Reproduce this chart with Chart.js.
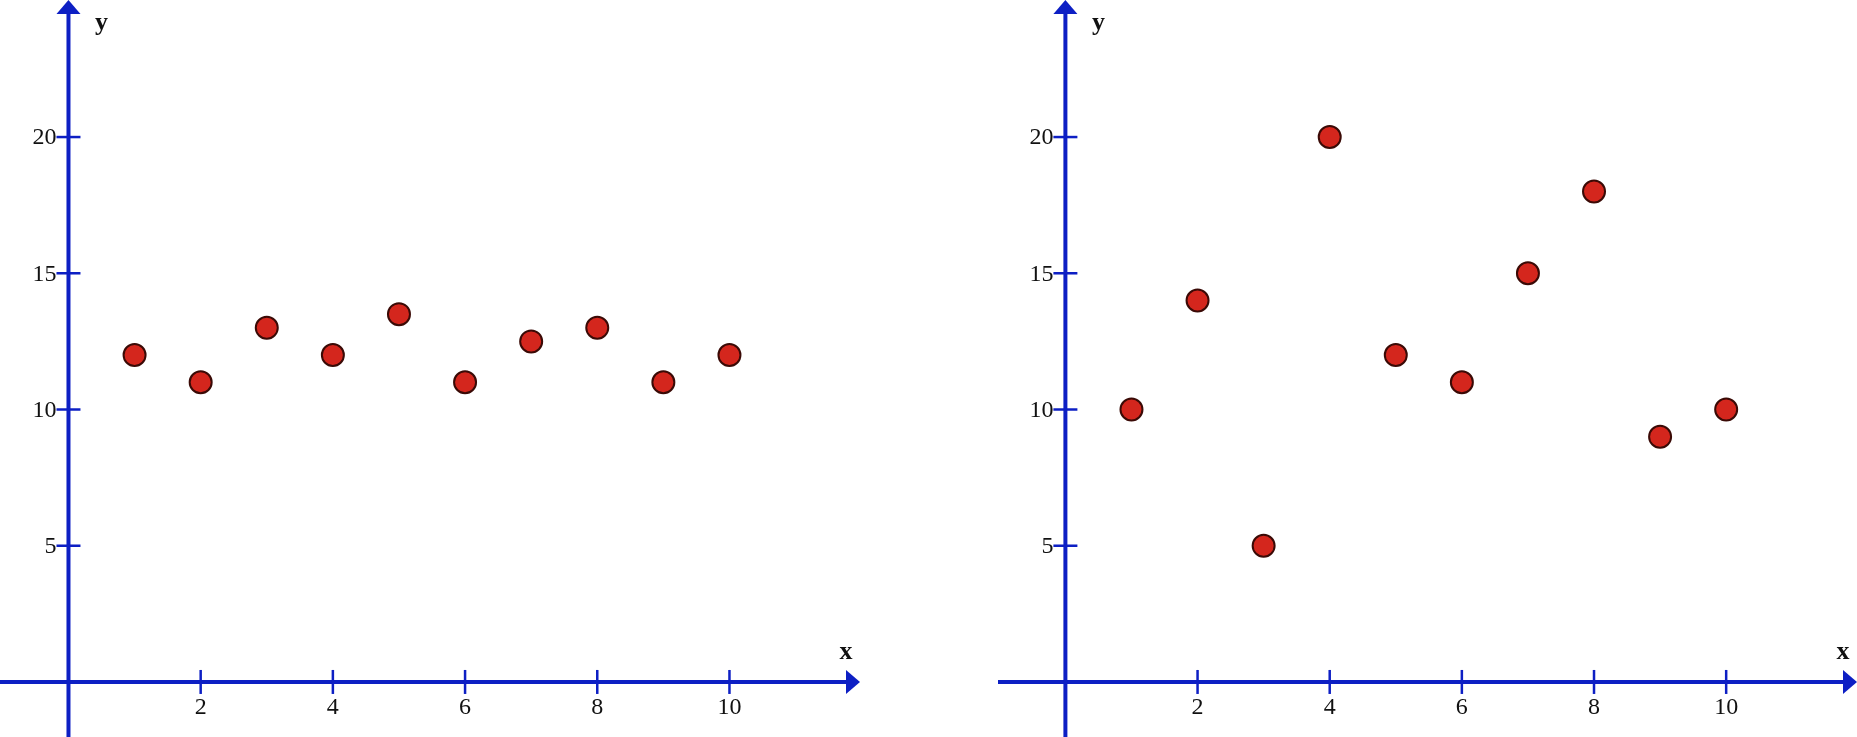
<!DOCTYPE html>
<html>
<head>
<meta charset="utf-8">
<script src="https://cdn.jsdelivr.net/npm/chart.js@4"></script>
<style>
  html, body { margin: 0; padding: 0; background: #fff; overflow: hidden; }
  #wrap { position: relative; width: 1857px; height: 737px; }
  canvas { position: absolute; top: 0; }
</style>
</head>
<body>
<div id="wrap">
  <canvas id="left" width="860" height="737" style="left:0px"></canvas>
  <canvas id="right" width="859" height="737" style="left:998px"></canvas>
</div>
<script>
// datos
const xValues = [1, 2, 3, 4, 5, 6, 7, 8, 9, 10];
const leftY = [12, 11, 13, 12, 13.5, 11, 12.5, 13, 11, 12];
const rightY = [10, 14, 5, 20, 12, 11, 15, 18, 9, 10];
const xTicks = [2, 4, 6, 8, 10];
const yTicks = [5, 10, 15, 20];

const AXIS = '#0d1fc4';

// dibuja los ejes con flechas, marcas y etiquetas en el origen
const axesPlugin = {
    id: 'axes',
    beforeDatasetsDraw(chart) {
        const ctx = chart.ctx;
        const xs = chart.scales.x, ys = chart.scales.y;
        const ox = xs.getPixelForValue(0);
        const oy = ys.getPixelForValue(0);
        const left = xs.getPixelForValue(xs.min), right = xs.getPixelForValue(xs.max);
        const top = ys.getPixelForValue(ys.max), bottom = ys.getPixelForValue(ys.min);
        ctx.save();
        ctx.strokeStyle = AXIS;
        ctx.fillStyle = AXIS;
        ctx.lineWidth = 4;
        // eje x
        ctx.beginPath();
        ctx.moveTo(left, oy);
        ctx.lineTo(right - 10, oy);
        ctx.stroke();
        // eje y
        ctx.beginPath();
        ctx.moveTo(ox, bottom);
        ctx.lineTo(ox, top + 10);
        ctx.stroke();
        // flechas
        ctx.beginPath();
        ctx.moveTo(right, oy);
        ctx.lineTo(right - 14, oy - 12);
        ctx.lineTo(right - 14, oy + 12);
        ctx.closePath();
        ctx.fill();
        ctx.beginPath();
        ctx.moveTo(ox, top);
        ctx.lineTo(ox - 12, top + 14);
        ctx.lineTo(ox + 12, top + 14);
        ctx.closePath();
        ctx.fill();
        // marcas
        ctx.lineWidth = 2.5;
        xTicks.forEach(v => {
            const px = xs.getPixelForValue(v);
            ctx.beginPath();
            ctx.moveTo(px, oy - 12);
            ctx.lineTo(px, oy + 12);
            ctx.stroke();
        });
        yTicks.forEach(v => {
            const py = ys.getPixelForValue(v);
            ctx.beginPath();
            ctx.moveTo(ox - 12, py);
            ctx.lineTo(ox + 12, py);
            ctx.stroke();
        });
        // etiquetas
        ctx.fillStyle = '#111';
        ctx.font = '24px "Liberation Serif", serif';
        ctx.textAlign = 'center';
        ctx.textBaseline = 'top';
        xTicks.forEach(v => {
            ctx.fillText(String(v), xs.getPixelForValue(v), oy + 14);
        });
        ctx.textAlign = 'right';
        ctx.textBaseline = 'middle';
        yTicks.forEach(v => {
            ctx.fillText(String(v), ox - 12, ys.getPixelForValue(v) + 1);
        });
        ctx.font = 'bold 26px "Liberation Serif", serif';
        ctx.textAlign = 'center';
        ctx.fillText('y', ox + 33, top + 23);
        ctx.fillText('x', right - 14, oy - 30);
        ctx.restore();
    }
};

function crearGrafico(id, valores, xmin, xmax) {
    const ctx = document.getElementById(id).getContext('2d');
    return new Chart(ctx, {
        type: 'scatter',
        data: {
            datasets: [{
                data: xValues.map((x, i) => ({ x: x, y: valores[i] })),
                backgroundColor: '#d4261d',
                borderColor: '#3a0a06',
                borderWidth: 2,
                pointRadius: 11,
                pointHoverRadius: 11
            }]
        },
        options: {
            responsive: false,
            animation: false,
            layout: { padding: 0, autoPadding: false },
            plugins: {
                legend: { display: false },
                tooltip: { enabled: false }
            },
            scales: {
                x: { type: 'linear', min: xmin, max: xmax, display: false },
                y: { type: 'linear', min: -2.02, max: 25.03, display: false }
            }
        },
        plugins: [axesPlugin]
    });
}

crearGrafico('left', leftY, -1.036, 11.975);
crearGrafico('right', rightY, -1.02, 11.98);
</script>
</body>
</html>
